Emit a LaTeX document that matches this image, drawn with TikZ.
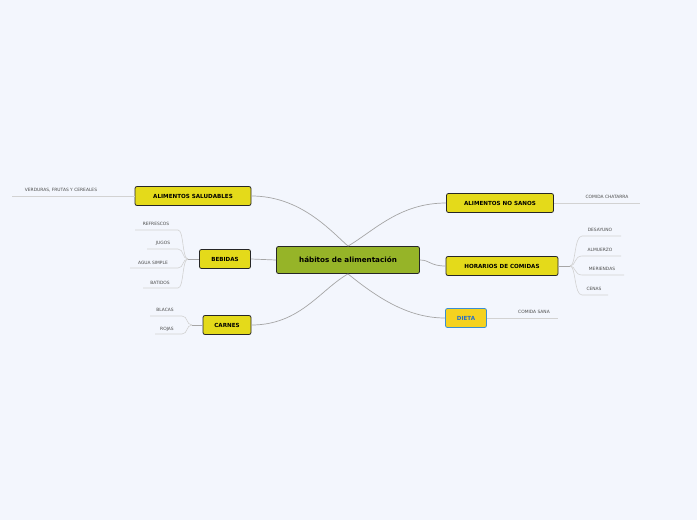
\documentclass[tikz,border=0pt]{standalone}
\usepackage{fontspec}
\setmainfont{DejaVu Sans}
\begin{document}
\begin{tikzpicture}[x=1pt,y=-1pt,
 box/.style={draw=black!85,fill=yellow!85!orange!95!black,rounded corners=2pt,line width=0.8pt,font=\bfseries\fontsize{5.6}{6}\selectfont,inner sep=0pt,minimum height=19pt},
 leaf/.style={font=\fontsize{4.4}{5}\selectfont,text=black!70,inner sep=1pt},
 con/.style={draw=gray!70,line width=0.7pt},
 sub/.style={draw=gray!35,line width=0.6pt}]
\useasboundingbox[fill={rgb,255:red,243;green,246;blue,253}] (0,0) rectangle (697,520);
\definecolor{ybox}{RGB}{228,218,26}
\node[box,fill=olive!80!yellow!90!black,fill={rgb,255:red,150;green,180;blue,40},minimum width=143pt,minimum height=27pt,font=\bfseries\fontsize{7.2}{8}\selectfont] (c) at (348,260) {hábitos de alimentación};
\node[box,fill=ybox,minimum width=116pt] (as) at (193,196) {ALIMENTOS SALUDABLES};
\node[box,fill=ybox,minimum width=51pt] (be) at (225,259) {BEBIDAS};
\node[box,fill=ybox,minimum width=48pt] (ca) at (227,325) {CARNES};
\node[box,fill=ybox,minimum width=107pt] (ns) at (500,203) {ALIMENTOS NO SANOS};
\node[box,fill=ybox,minimum width=112pt] (ho) at (502,266) {HORARIOS DE COMIDAS};
\node[box,fill={rgb,255:red,245;green,210;blue,31},draw={rgb,255:red,59;green,142;blue,208},text={rgb,255:red,40;green,110;blue,200},minimum width=41pt] (di) at (466,318) {DIETA};
% main connectors
\draw[con] (as.east) .. controls (300,196) and (330,230) .. (c.north);
\draw[con] (be.east) -- (c.west);
\draw[con] (ca.east) .. controls (300,325) and (320,290) .. (c.south);
\draw[con] (c.north) .. controls (375,230) and (400,203) .. (ns.west);
\draw[con] (c.east) .. controls (430,260) and (430,266) .. (ho.west);
\draw[con] (c.south) .. controls (380,300) and (410,318) .. (di.west);
% leaves
\node[leaf] (v) at (61,190) {VERDURAS, FRUTAS Y CEREALES};
\coordinate (ve) at (12,196);
\draw[sub] (as.west) -- (ve);
\node[leaf] (r1) at (156,224) {REFRESCOS};
\node[leaf] (r2) at (163,243) {JUGOS};
\node[leaf] (r3) at (153,263) {AGUA SIMPLE};
\node[leaf] (r4) at (160,283) {BATIDOS};
\coordinate (bj) at (188,259);
\draw[con] (be.west) -- (bj);
\foreach \y/\a in {230/135,249/147,268/130,288/143}{
 \draw[sub] (bj) .. controls (182,259) and (184,\y) .. (178,\y) -- (\a,\y);}
\node[leaf] (k1) at (165,310) {BLACAS};
\node[leaf] (k2) at (167,329) {ROJAS};
\coordinate (cj) at (192,325);
\draw[con] (ca.west) -- (cj);
\foreach \y/\a in {316/150,334/155}{
 \draw[sub] (cj) .. controls (186,325) and (188,\y) .. (182,\y) -- (\a,\y);}
\node[leaf] (n1) at (607,197) {COMIDA CHATARRA};
\coordinate (ne) at (640,203);
\draw[sub] (ns.east) -- (ne);
\node[leaf] (h1) at (600,230) {DESAYUNO};
\node[leaf] (h2) at (600,250) {ALMUERZO};
\node[leaf] (h3) at (602,269) {MERIENDAS};
\node[leaf] (h4) at (594,289) {CENAS};
\coordinate (hj) at (570,266);
\draw[con] (ho.east) -- (hj);
\foreach \y/\b in {236/621,256/621,275/624,295/608}{
 \draw[sub] (hj) .. controls (576,266) and (574,\y) .. (582,\y) -- (\b,\y);}
\node[leaf] (d1) at (534,312) {COMIDA SANA};
\coordinate (de) at (558,318);
\draw[sub] (di.east) -- (de);
\end{tikzpicture}
\end{document}
